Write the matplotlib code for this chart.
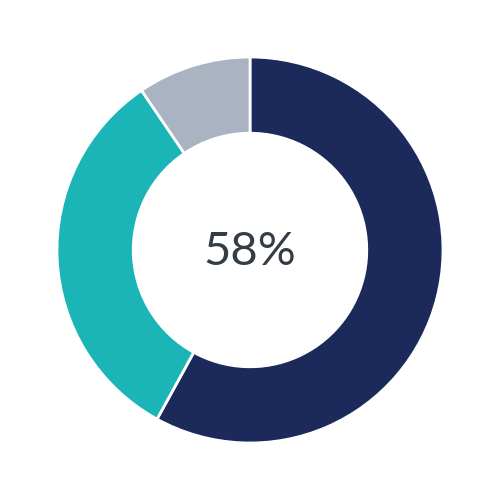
import matplotlib
matplotlib.use("Agg")
import matplotlib.pyplot as plt

labels = ["Navy", "Teal", "Gray"]
values = [58, 32.5, 9.5]
colors = ["#1b2a5a", "#1bb5b7", "#a9b3c1"]
center_text = "58%"

fig = plt.figure(figsize=(5, 5), dpi=100)
ax = fig.add_axes([0, 0, 1, 1])
ax.pie(values, colors=colors, startangle=90, counterclock=False, radius=1,
       wedgeprops=dict(width=0.395, edgecolor="white", linewidth=2))
lim = 250 / 193
ax.set_xlim(-lim, lim)
ax.set_ylim(-lim, lim)
ax.set_aspect("equal")
ax.axis("off")
ax.text(0, -0.01, center_text, ha="center", va="center", fontsize=34,
        family=["Lato", "DejaVu Sans"], color="#343c46")
fig.savefig("out.png", dpi=100)
